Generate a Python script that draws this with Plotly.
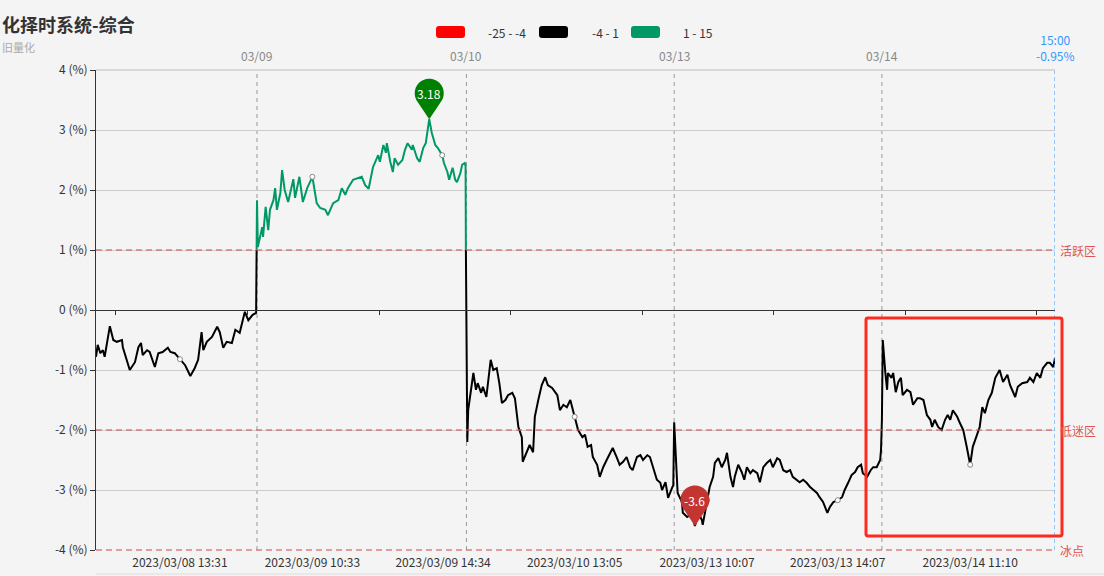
import math
import plotly.graph_objects as go

# ---------------- data (minute index from first point, value in %) ----------------
minutes = [
    0, 2, 5, 8, 10, 16, 20, 24, 30, 31, 39, 45, 49, 52, 54, 59, 62, 68, 72, 77, 83, 86, 91, 97, 103,
    109, 114, 118, 122, 124, 128, 134, 140, 143, 147, 151, 157, 161, 166, 172, 176, 181, 185,
    186, 187, 192, 193, 196, 199, 201, 205, 207, 209, 213, 215, 218, 222, 228, 230, 235, 239, 244,
    250, 251, 255, 259, 265, 268, 274, 280, 284, 288, 291, 297, 303, 307, 311, 315, 320, 326, 328,
    332, 335, 336, 340, 343, 345, 349, 354, 357, 360, 365, 366, 371, 374, 378, 381, 385, 388, 392,
    395, 400, 402, 406, 408, 412, 415, 417, 421, 423, 426, 427,
    428, 429, 430, 432, 436, 439, 441, 445, 447, 451, 453, 456, 459, 463, 466, 469, 473, 476, 481,
    484, 488, 492, 493, 498, 501, 505, 507, 511, 515, 519, 522, 527, 533, 536, 540, 544, 548, 553,
    557, 562, 565, 568, 572, 574, 579, 582, 586, 590, 594, 597, 602, 605, 609, 613, 617, 620, 625,
    629, 632, 637, 640, 644, 648, 652, 654, 658, 661, 666, 667,
    668, 671, 672, 677, 678, 683, 686, 690, 692, 696, 700, 701, 706, 709, 713, 715, 719, 723, 727,
    729, 733, 736, 738, 742, 746, 749, 752, 756, 759, 764, 767, 771, 775, 779, 782, 787, 790, 794,
    798, 802, 805, 810, 813, 817, 821, 825, 829, 833, 836, 840, 845, 848, 852, 857, 862, 865, 869,
    873, 877, 880, 884, 886, 891, 895, 898, 902, 906, 907,
    908, 909, 912, 914, 915, 919, 921, 924, 927, 930, 932, 937, 941, 944, 949, 952, 956, 960, 964,
    966, 969, 973, 977, 981, 984, 987, 990, 995, 998, 1002, 1006, 1010, 1013, 1018, 1021, 1024,
    1027, 1031, 1035, 1039, 1044, 1048, 1053, 1056, 1062, 1065, 1070, 1076, 1079, 1083, 1087, 1091,
    1094, 1099, 1102, 1106, 1108,
]
values = [
    -0.78, -0.58, -0.72, -0.67, -0.78, -0.27, -0.50, -0.53, -0.50, -0.62, -1.00, -0.87, -0.62, -0.55,
    -0.75, -0.67, -0.70, -0.95, -0.72, -0.70, -0.63, -0.70, -0.72, -0.82, -0.92, -1.10, -0.97, -0.83,
    -0.37, -0.67, -0.53, -0.45, -0.28, -0.37, -0.63, -0.53, -0.55, -0.33, -0.38, -0.03, -0.17, -0.08,
    -0.05,
    1.83, 1.05, 1.38, 1.22, 1.72, 1.33, 1.67, 1.83, 2.03, 1.67, 1.95, 2.33, 2.00, 1.80, 2.18, 1.87,
    2.22, 1.80, 2.03, 2.22, 2.12, 1.78, 1.70, 1.67, 1.58, 1.78, 1.83, 2.03, 1.92, 2.03, 2.17, 2.20,
    2.22, 2.08, 2.02, 2.38, 2.58, 2.47, 2.75, 2.62, 2.78, 2.47, 2.30, 2.53, 2.42, 2.50, 2.67, 2.78,
    2.67, 2.75, 2.53, 2.47, 2.70, 2.78, 3.18, 2.95, 2.75, 2.70, 2.58, 2.45, 2.30, 2.17, 2.37, 2.17,
    2.13, 2.28, 2.42, 2.45, 2.40,
    -1.50, -2.20, -1.67, -1.45, -1.05, -1.33, -1.22, -1.38, -1.28, -1.45, -1.20, -0.83, -1.00, -0.97,
    -1.22, -1.55, -1.50, -1.42, -1.38, -1.47, -1.95, -2.12, -2.53, -2.37, -2.25, -2.37, -1.78, -1.50,
    -1.25, -1.12, -1.25, -1.30, -1.42, -1.67, -1.58, -1.62, -1.50, -1.78, -2.00, -2.12, -2.08, -2.28,
    -2.25, -2.45, -2.58, -2.78, -2.62, -2.50, -2.37, -2.30, -2.47, -2.58, -2.53, -2.45, -2.62, -2.67,
    -2.45, -2.42, -2.50, -2.42, -2.45, -2.63, -2.83, -2.88, -3.00, -2.87, -3.13, -2.95, -2.92,
    -1.87, -2.72, -3.05, -3.20, -3.38, -3.45, -3.42, -3.50, -3.60, -3.38, -3.50, -3.58, -3.17, -2.95,
    -2.78, -2.55, -2.47, -2.62, -2.50, -2.38, -2.78, -2.95, -2.78, -2.58, -2.70, -2.83, -2.62, -2.72,
    -2.67, -2.72, -2.87, -2.62, -2.55, -2.50, -2.62, -2.47, -2.50, -2.67, -2.70, -2.67, -2.78, -2.83,
    -2.87, -2.83, -2.88, -2.95, -3.00, -3.05, -3.12, -3.20, -3.38, -3.28, -3.20, -3.17, -3.12, -3.00,
    -2.88, -2.75, -2.70, -2.62, -2.58, -2.72, -2.78, -2.67, -2.62, -2.62, -2.50, -2.33,
    -1.83, -0.50, -1.05, -1.33, -1.05, -1.13, -1.05, -1.37, -1.20, -1.13, -1.42, -1.33, -1.37, -1.58,
    -1.47, -1.47, -1.50, -1.75, -1.83, -1.95, -1.83, -1.95, -2.00, -1.83, -1.75, -1.83, -1.67, -1.78,
    -1.88, -2.00, -2.28, -2.58, -2.28, -2.08, -1.95, -1.62, -1.72, -1.50, -1.38, -1.13, -1.00, -1.20,
    -1.08, -1.25, -1.45, -1.28, -1.22, -1.20, -1.13, -1.20, -1.05, -1.13, -0.97, -0.88, -0.88, -0.95,
    -0.80,
]

label_minutes = [97, 250, 401, 553, 706, 857, 1010]
label_text = ["2023/03/08 13:31", "2023/03/09 10:33", "2023/03/09 14:34", "2023/03/10 13:05",
              "2023/03/13 10:07", "2023/03/13 14:07", "2023/03/14 11:10"]
axis_tick_minutes = [23, 175, 327, 479, 631, 783, 935, 1087]
day_minutes = [186, 428, 668, 908]
day_text = ["03/09", "03/10", "03/13", "03/14"]
last_minute = 1108
last_text = "15:00<br>-0.95%"

pieces = [(-25, -4, "#ff0000", "-25 - -4"), (-4, 1, "#000000", "-4 - 1"), (1, 15, "#009966", "1 - 15")]
zones = [(1, "活跃区"), (-2, "低迷区"), (-4, "冰点")]
y_ticks = [4, 3, 2, 1, 0, -1, -2, -3, -4]
y_range = [-4, 4]
title_text = "化择时系统-综合"
subtitle_text = "旧量化"

# ---------------- layout helpers ----------------
W, H = 1104, 576
PL, PT, PR, PB = 96, 70, 49, 26
PW, PH = W - PL - PR, H - PT - PB
FONT = "Microsoft YaHei, Noto Sans CJK SC, sans-serif"
BG = "#f4f4f4"


def pxp(x):
    return (x - PL) / PW


def pyp(y):
    return (PT + PH - y) / PH


def val2paper(v):
    return (v - y_range[0]) / (y_range[1] - y_range[0])


def rrect_path(x0, y0, x1, y1, r):
    pts = [
        ("M", [(x0 + r, y0)]), ("L", [(x1 - r, y0)]), ("Q", [(x1, y0), (x1, y0 + r)]),
        ("L", [(x1, y1 - r)]), ("Q", [(x1, y1), (x1 - r, y1)]), ("L", [(x0 + r, y1)]),
        ("Q", [(x0, y1), (x0, y1 - r)]), ("L", [(x0, y0 + r)]), ("Q", [(x0, y0), (x0 + r, y0)]),
    ]
    s = ""
    for cmd, ps in pts:
        s += cmd + " " + " ".join(f"{pxp(a):.5f},{pyp(b):.5f}" for a, b in ps) + " "
    return s + "Z"


def pin_path(h=26, r=14.5, n=48):
    th = math.acos(r / h)
    a0 = -math.pi / 2 + th
    a1 = 3 * math.pi / 2 - th
    s = "M 0,0"
    for i in range(n + 1):
        a = a0 + (a1 - a0) * i / n
        s += f" L {r * math.cos(a):.2f},{h + r * math.sin(a):.2f}"
    return s + " Z"


def band_color(v):
    for lo, hi, col, _ in pieces:
        if lo <= v <= hi:
            return col
    return pieces[-1][2]


# split the line into colour runs following the piecewise visual map
thresholds = sorted({p[0] for p in pieces[1:]})
runs = {p[2]: ([], []) for p in pieces}
cur = None
for i in range(len(minutes) - 1):
    x0, y0, x1, y1 = minutes[i], values[i], minutes[i + 1], values[i + 1]
    cuts = []
    for t in thresholds:
        if (y0 - t) * (y1 - t) < 0:
            f = (t - y0) / (y1 - y0)
            cuts.append((f, x0 + f * (x1 - x0), t))
    cuts.sort()
    pts = [(x0, y0)] + [(cx, t) for _, cx, t in cuts] + [(x1, y1)]
    for a, b in zip(pts[:-1], pts[1:]):
        col = band_color((a[1] + b[1]) / 2)
        if col != cur:
            if cur is not None:
                runs[cur][0].append(None)
                runs[cur][1].append(None)
            runs[col][0].append(a[0])
            runs[col][1].append(a[1])
            cur = col
        runs[col][0].append(b[0])
        runs[col][1].append(b[1])

fig = go.Figure()
for col, (xs, ys) in runs.items():
    if xs:
        fig.add_trace(go.Scatter(x=xs, y=ys, mode="lines", line=dict(color=col, width=2),
                                 hoverinfo="skip", showlegend=False))

# hollow symbols at label positions
sym_x, sym_y = [], []
for lm in label_minutes:
    j = min(range(len(minutes)), key=lambda k: abs(minutes[k] - lm))
    sym_x.append(minutes[j])
    sym_y.append(values[j])
fig.add_trace(go.Scatter(x=sym_x, y=sym_y, mode="markers",
                         marker=dict(size=5, color="white", line=dict(color="#888", width=1)),
                         hoverinfo="skip", showlegend=False))

# dummy trace for the zero-line axis
fig.add_trace(go.Scatter(x=[0], y=[0], xaxis="x3", mode="markers", marker=dict(opacity=0),
                         hoverinfo="skip", showlegend=False))

shapes = []
annotations = []

# day separators
for m, txt in zip(day_minutes, day_text):
    shapes.append(dict(type="line", xref="x", yref="paper", x0=m, x1=m, y0=0, y1=1,
                       line=dict(color="#999", width=1, dash="4px,4px"), layer="below"))
    annotations.append(dict(x=m, y=1, xref="x", yref="paper", text=txt,
                            showarrow=False, yanchor="bottom", yshift=4,
                            font=dict(size=12, color="#888", family=FONT)))
# last point
shapes.append(dict(type="line", xref="x", yref="paper", x0=last_minute, x1=last_minute, y0=0, y1=1,
                   line=dict(color="#3399ff", width=1, dash="4px,3px")))
annotations.append(dict(x=last_minute, y=1, xref="x", yref="paper", text=last_text, showarrow=False,
                        yanchor="bottom", yshift=4, align="center",
                        font=dict(size=12, color="#3399ff", family=FONT)))

# top border line
shapes.append(dict(type="line", xref="paper", yref="paper", x0=0, x1=1, y0=1, y1=1,
                   line=dict(color="#cfcfcf", width=1.5)))

# zone lines (paper refs so the edge line is not clipped)
for v, txt in zones:
    yp = val2paper(v)
    shapes.append(dict(type="line", xref="paper", yref="paper", x0=0, x1=1, y0=yp, y1=yp,
                       line=dict(color="rgba(210,90,90,0.75)", width=1.5, dash="6px,4px")))
    annotations.append(dict(x=1, y=v, xref="paper", yref="y", text=txt, showarrow=False,
                            xanchor="left", yanchor="middle", xshift=3,
                            font=dict(size=12, color="#dd5555", family=FONT)))

# red highlight box
shapes.append(dict(type="path", xref="paper", yref="paper",
                   path=rrect_path(866, 318, 1062, 536, 2),
                   line=dict(color="#ff2a1f", width=3), fillcolor="rgba(0,0,0,0)"))

# bottom slider hint line
shapes.append(dict(type="line", xref="paper", yref="paper", x0=pxp(96), x1=pxp(1104), y0=pyp(574),
                   y1=pyp(574), line=dict(color="#dddddd", width=1)))

# pins for max and min
imax = values.index(max(values))
imin = values.index(min(values))
for idx, col in ((imax, "#008000"), (imin, "#c23531")):
    shapes.append(dict(type="path", xref="x", yref="y", xsizemode="pixel", ysizemode="pixel",
                       xanchor=minutes[idx], yanchor=values[idx], path=pin_path(),
                       fillcolor=col, line=dict(color=col, width=0)))
    annotations.append(dict(x=minutes[idx], y=values[idx], xref="x", yref="y",
                            text=f"{values[idx]:g}", showarrow=False, yshift=26,
                            font=dict(size=12, color="white", family=FONT)))

# visual map legend
legend_boxes = [(436, 465, 507), (539, 568, 605), (631, 660, 698)]
for (lo, hi, col, txt), (bx0, bx1, tx) in zip(pieces, legend_boxes):
    shapes.append(dict(type="path", xref="paper", yref="paper", path=rrect_path(bx0, 26, bx1, 38, 3),
                       fillcolor=col, line=dict(color=col, width=0)))
    annotations.append(dict(x=pxp(tx), y=pyp(32), xref="paper", yref="paper", text=txt,
                            xanchor="center", yanchor="middle",
                            showarrow=False, font=dict(size=12, color="#333", family=FONT)))

# title & subtitle
annotations.append(dict(x=0, y=1, xref="paper", yref="paper", text="<b>" + title_text + "</b>",
                        showarrow=False, xanchor="left", yanchor="middle", xshift=-PL, yshift=46,
                        font=dict(size=18, color="#333", family=FONT)))
annotations.append(dict(x=0, y=1, xref="paper", yref="paper", text=subtitle_text,
                        showarrow=False, xanchor="left", yanchor="middle", xshift=-PL, yshift=23,
                        font=dict(size=11, color="#aaa", family=FONT)))

fig.update_layout(
    width=W, height=H,
    margin=dict(l=PL, r=PR, t=PT, b=PB, autoexpand=False),
    paper_bgcolor=BG, plot_bgcolor=BG,
    showlegend=False,
    font=dict(family=FONT, size=12, color="#333"),
    xaxis=dict(range=[0, last_minute], tickmode="array", tickvals=label_minutes, ticktext=label_text,
               showgrid=False, zeroline=False, showline=False, ticks="", ticklen=0,
               ticklabelstandoff=4, automargin=False,
               tickfont=dict(size=12, color="#333", family=FONT)),
    xaxis3=dict(range=[0, last_minute], overlaying="x", anchor="free", position=0.5,
                showline=True, linecolor="#333", linewidth=1, ticks="outside", ticklen=4,
                tickcolor="#333", tickmode="array", tickvals=axis_tick_minutes, automargin=False,
                showticklabels=False, showgrid=False, zeroline=False),
    yaxis=dict(range=y_range, tickmode="array", tickvals=y_ticks, automargin=False,
               ticktext=[f"{v} (%)" for v in y_ticks], showgrid=True, gridcolor="#cccccc",
               zeroline=False, showline=True, linecolor="#333", linewidth=1, ticks="outside",
               ticklen=5, tickcolor="#333", tickfont=dict(size=12, color="#333", family=FONT)),
    shapes=shapes,
    annotations=annotations,
)

fig.write_html("out.html", config={"displayModeBar": False},
               post_script="document.body.style.margin='0px';document.body.style.padding='0px';"
                           "document.body.style.background='" + BG + "';")
